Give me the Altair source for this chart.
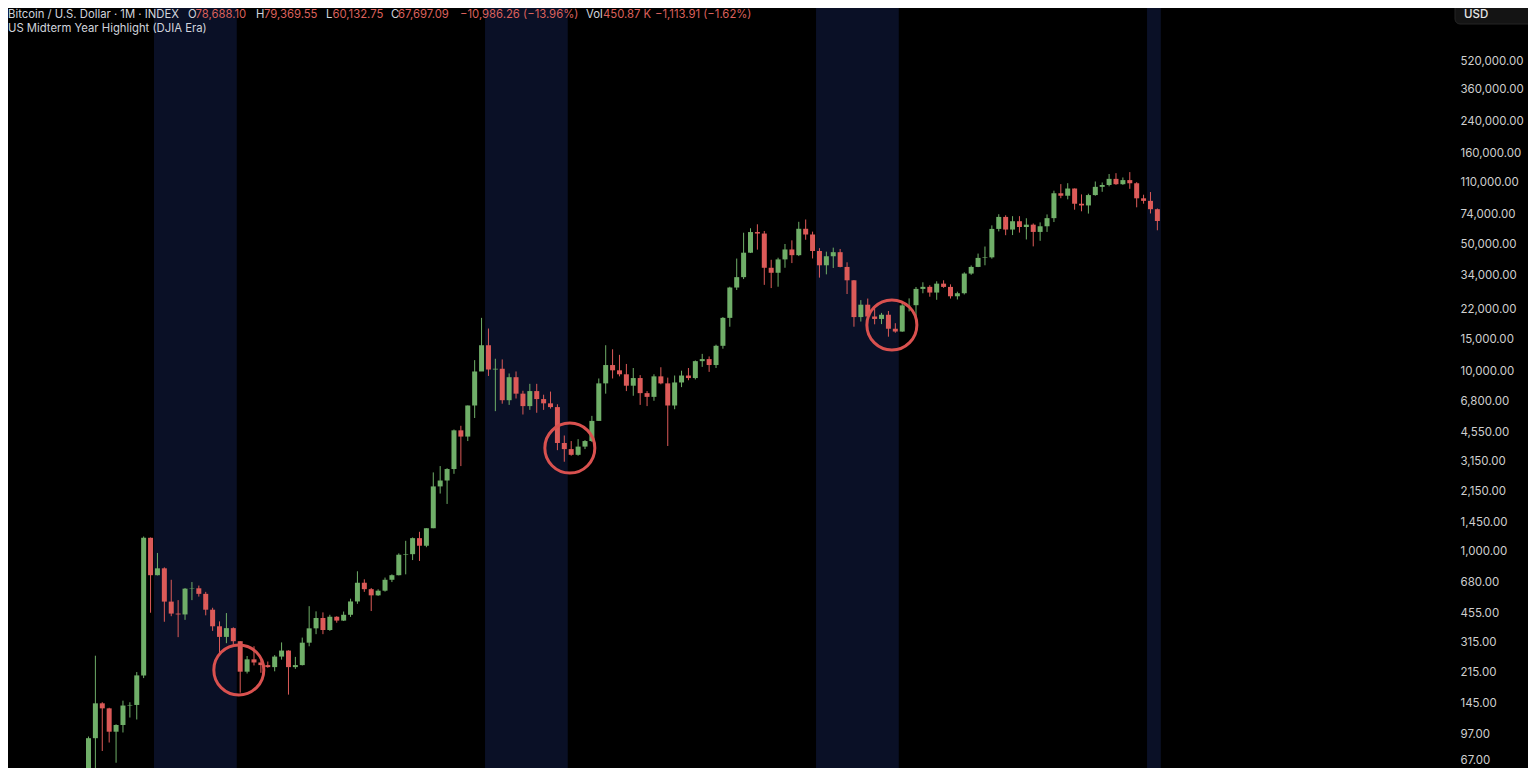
import math
import altair as alt
import pandas as pd

# ---------------- data (monthly BTC/USD candles, Mar 2013 .. Feb 2026) ----------------
months = pd.date_range("2013-03-01", periods=156, freq="MS").strftime("%Y-%m").tolist()

opens = [
    34, 93, 145, 136, 101, 110, 141, 142, 207, 1195,
    742, 810, 530, 455, 450, 625, 628, 585, 478, 387, 338, 378,
    320, 217, 254, 244, 236, 230, 263, 284, 230, 236, 314, 377,
    430, 369, 437, 416, 448, 531, 674, 621, 574, 609, 700, 742,
    963, 970, 1190, 1080, 1350, 2300, 2480, 2870, 4700, 4340, 6450, 9950,
    13900, 10200, 10300, 6900, 9250, 7500, 6400, 7750, 7000, 6630, 6320, 4000,
    3700, 3440, 3820, 4100, 5300, 8550, 10800, 10100, 9600, 8300, 9150, 7550,
    7200, 9350, 8550, 6450, 8650, 9450, 9150, 11350, 11650, 10800, 13800, 19700,
    29000, 33100, 45200, 58800, 57700, 37300, 35000, 41500, 47100, 43800, 61300, 57000,
    46200, 38500, 43200, 45500, 37700, 31800, 19900, 23300, 20050, 19430, 20500, 17150,
    16550, 23100, 23150, 28500, 29250, 27200, 30470, 29230, 25940, 26970, 34650, 37700,
    42300, 42600, 61200, 71300, 60700, 67500, 62700, 64600, 58900, 63300, 70200, 96400,
    93400, 102400, 84350, 82550, 94200, 104600, 107100, 115800, 108200, 114000, 109500, 90400,
    87500, 78688.10,
]
highs = [
    95, 266, 147, 137, 111, 150, 147, 216, 1215, 1200,
    985, 820, 700, 540, 630, 680, 650, 600, 490, 412, 458, 382,
    320, 265, 300, 260, 247, 268, 315, 285, 262, 335, 500, 468,
    462, 448, 440, 467, 550, 780, 704, 630, 620, 720, 750, 980,
    1150, 1200, 1290, 1350, 2750, 2980, 2900, 4750, 4980, 6450, 11500, 19700,
    17200, 11700, 11600, 9700, 9950, 7780, 8500, 8500, 7400, 7700, 6550, 4400,
    4100, 4200, 4150, 5650, 9100, 13900, 13200, 12300, 10950, 10400, 9500, 7750,
    9600, 10500, 9200, 9450, 10050, 10400, 11450, 12450, 12050, 14000, 19900, 29300,
    41950, 58300, 61700, 64900, 59600, 41300, 42400, 50500, 52900, 67000, 69000, 59100,
    47900, 45800, 48200, 47400, 40000, 31900, 24700, 25200, 22800, 20990, 21500, 18400,
    23900, 25250, 29200, 31000, 29850, 31400, 31800, 30200, 27500, 35200, 38400, 44700,
    48900, 64000, 73800, 72800, 72000, 72000, 70100, 65600, 66500, 73600, 99600, 108300,
    109600, 102500, 95000, 95800, 112000, 110600, 123200, 124500, 117900, 126200, 111000, 94600,
    97900, 79369.55,
]
lows = [
    33, 50, 79, 88, 68, 100, 121, 118, 200, 460,
    740, 410, 440, 337, 420, 540, 565, 445, 365, 275, 312, 307,
    166, 212, 235, 214, 228, 218, 253, 162, 225, 235, 300, 350,
    350, 365, 405, 414, 436, 515, 600, 470, 570, 602, 680, 740,
    750, 900, 890, 1060, 1350, 2100, 1840, 2700, 2980, 4100, 5500, 10800,
    9400, 6000, 6600, 6500, 7050, 5750, 6100, 5880, 6100, 6200, 3650, 3150,
    3400, 3400, 3700, 4050, 5300, 7500, 9100, 9350, 7750, 7300, 6500, 6400,
    6850, 8450, 3850, 6150, 8150, 8900, 8990, 10550, 9900, 10400, 13300, 17600,
    28100, 32300, 45000, 47000, 30000, 28800, 29300, 37300, 39600, 43300, 53300, 42000,
    32900, 34300, 37200, 37500, 26700, 17600, 18800, 19600, 18150, 18200, 15500, 16300,
    16500, 21400, 19550, 26950, 25800, 24800, 28900, 25200, 24900, 26550, 34100, 37600,
    38500, 41900, 59300, 56500, 56600, 58400, 53500, 49000, 52600, 58900, 66800, 90500,
    89200, 78200, 76600, 74400, 93400, 98200, 105300, 107300, 107300, 102000, 80600, 84400,
    74500, 60132.75,
]
closes = [
    93, 145, 136, 101, 110, 141, 142, 207, 1195, 742,
    810, 530, 455, 450, 625, 628, 585, 478, 387, 338, 378, 320,
    217, 254, 244, 236, 230, 263, 284, 230, 236, 314, 377, 430,
    369, 437, 416, 448, 531, 674, 621, 574, 609, 700, 742, 963,
    970, 1190, 1080, 1350, 2300, 2480, 2870, 4700, 4340, 6450, 9950, 13900,
    10200, 10300, 6900, 9250, 7500, 6400, 7750, 7000, 6630, 6320, 4000, 3700,
    3440, 3820, 4100, 5300, 8550, 10800, 10100, 9600, 8300, 9150, 7550, 7200,
    9350, 8550, 6450, 8650, 9450, 9150, 11350, 11650, 10800, 13800, 19700, 29000,
    33100, 45200, 58800, 57700, 37300, 35000, 41500, 47100, 43800, 61300, 57000, 46200,
    38500, 43200, 45500, 37700, 31800, 19900, 23300, 20050, 19430, 20500, 17150, 16550,
    23100, 23150, 28500, 29250, 27200, 30470, 29230, 25940, 26970, 34650, 37700, 42300,
    42600, 61200, 71300, 60700, 67500, 62700, 64600, 58900, 63300, 70200, 96400, 93400,
    102400, 84350, 82550, 94200, 104600, 107100, 115800, 108200, 114000, 109500, 90400, 87500,
    78688.10, 67697.09,
]

midterm_years = [2014, 2018, 2022, 2026]
# highlighted lows (x in months since Jan 2014, y in USD)
circle_months = [12.3, 60.3, 107.0]
circle_prices = [222, 3750, 18000]

price_ticks = [67, 97, 145, 215, 315, 455, 680, 1000, 1450, 2150, 3150, 4550, 6800,
               10000, 15000, 22000, 34000, 50000, 74000, 110000, 160000, 240000,
               360000, 520000]

header_segments = [
    ("Bitcoin / U.S. Dollar · 1M · INDEX", "w", 8),
    ("O", "w", 188), ("78,688.10", "r", 195.5),
    ("H", "w", 256), ("79,369.55", "r", 264),
    ("L", "w", 326), ("60,132.75", "r", 332.5),
    ("C", "w", 391), ("67,697.09", "r", 398),
    ("−10,986.26 (−13.96%)", "r", 460),
    ("Vol", "w", 586), ("450.87 K", "r", 603),
    ("−1,113.91 (−1.62%)", "r", 655),
]
subtitle = "US Midterm Year Highlight (DJIA Era)"

# ---------------- build tables ----------------
df = pd.DataFrame({"month": months, "open": opens, "high": highs, "low": lows, "close": closes})
dt = pd.to_datetime(df["month"])
df["t"] = (dt.dt.year - 2014) * 12 + (dt.dt.month - 1) + 0.5
df["dir"] = ["up" if c >= o else "down" for o, c in zip(df["open"], df["close"])]

last_edge = float(df["t"].max() + 0.5)
bands = pd.DataFrame({
    "start": [(y - 2014) * 12 for y in midterm_years],
    "end": [min((y - 2014) * 12 + 12, last_edge) for y in midterm_years],
})
circles = pd.DataFrame({"t": circle_months, "price": circle_prices})

# ---------------- layout (chart placed 1:1 on the reference, page margin 8px) ----------------
W, H = 1520, 760
M = 8                 # page margin
PX_PER_MONTH = 6.896
X0 = 154              # page pixel of Jan 2014
x_dom = [(M - X0) / PX_PER_MONTH, (M + W - X0) / PX_PER_MONTH]
PX_PER_DECADE = 180.7
Y520K = 61            # page pixel of 520,000
top_l = math.log10(520000) + (Y520K - M) / PX_PER_DECADE
bot_l = math.log10(520000) - (M + H - Y520K) / PX_PER_DECADE
y_dom = [10 ** bot_l, 10 ** top_l]

GREEN = "#6fae68"
RED = "#dc5a58"
BAND = "#0a1026"
TXT = "#d1d4dc"
HRED = "#dc615c"
FONT = "Inter"
HFS = 11.3

xs = alt.Scale(domain=x_dom, nice=False, zero=False, padding=0)
ys = alt.Scale(type="log", domain=y_dom, nice=False, padding=0)
yaxis = alt.Axis(orient="right", offset=(1460 - M) - W, values=price_ticks,
                 labelExpr="format(datum.value, ',.2f')", grid=False, domain=False,
                 ticks=False, labelPadding=0, labelAlign="left", labelBaseline="middle",
                 labelOffset={"condition": {"test": "datum.value < 80", "value": -3}, "value": 0},
                 labelColor="#cfcfcf", labelFont=FONT, labelFontSize=11.5,
                 labelOverlap=False, labelBound=False, title=None)
color = alt.Color("dir:N", scale=alt.Scale(domain=["up", "down"], range=[GREEN, RED]), legend=None)

band_layer = alt.Chart(bands).mark_rect(color=BAND, clip=True).encode(
    x=alt.X("start:Q", scale=xs, axis=None),
    x2="end:Q",
)

wick_layer = alt.Chart(df).mark_rule(strokeWidth=1, clip=True).encode(
    x=alt.X("t:Q", scale=xs, axis=None),
    y=alt.Y("low:Q", scale=ys, axis=yaxis),
    y2="high:Q",
    color=color,
)

body_layer = alt.Chart(df).mark_bar(size=5, clip=True).encode(
    x=alt.X("t:Q", scale=xs, axis=None),
    y=alt.Y("open:Q", scale=ys, axis=yaxis),
    y2="close:Q",
    color=color,
)

circle_layer = alt.Chart(circles).mark_point(shape="circle", filled=False, size=2500,
                                              strokeWidth=3, color="#d9514f", opacity=1,
                                              clip=True).encode(
    x=alt.X("t:Q", scale=xs, axis=None),
    y=alt.Y("price:Q", scale=ys, axis=yaxis),
)

one = pd.DataFrame({"k": [0]})
text_layers = []
for txt, col, rx in header_segments:
    text_layers.append(
        alt.Chart(one).mark_text(text=txt, align="left", baseline="middle", font=FONT,
                                 fontSize=HFS, color=TXT if col == "w" else HRED).encode(
            x=alt.value(rx - M), y=alt.value(7))
    )
text_layers.append(
    alt.Chart(one).mark_text(text=subtitle, align="left", baseline="middle", font=FONT,
                             fontSize=HFS, color=TXT).encode(
        x=alt.value(8 - M), y=alt.value(21))
)

usd_box = alt.Chart(one).mark_rect(fill="#141414", stroke="#242424", strokeWidth=1,
                                   cornerRadius=5).encode(
    x=alt.value(1455 - M), x2=alt.value(W + 10), y=alt.value(-8), y2=alt.value(24 - M))
usd_text = alt.Chart(one).mark_text(text="USD", align="left", baseline="middle", font=FONT,
                                    fontSize=11.5, fontWeight=500, color="#e6e6e6").encode(
    x=alt.value(1464 - M), y=alt.value(7))

chart = alt.layer(band_layer, wick_layer, body_layer, circle_layer, *text_layers,
                  usd_box, usd_text).properties(
    width=W, height=H, autosize=alt.AutoSizeParams(type="none"), padding=0,
    background="#000000",
).configure_view(stroke=None)

chart.save("out.html", embed_options={"renderer": "svg", "actions": False})
